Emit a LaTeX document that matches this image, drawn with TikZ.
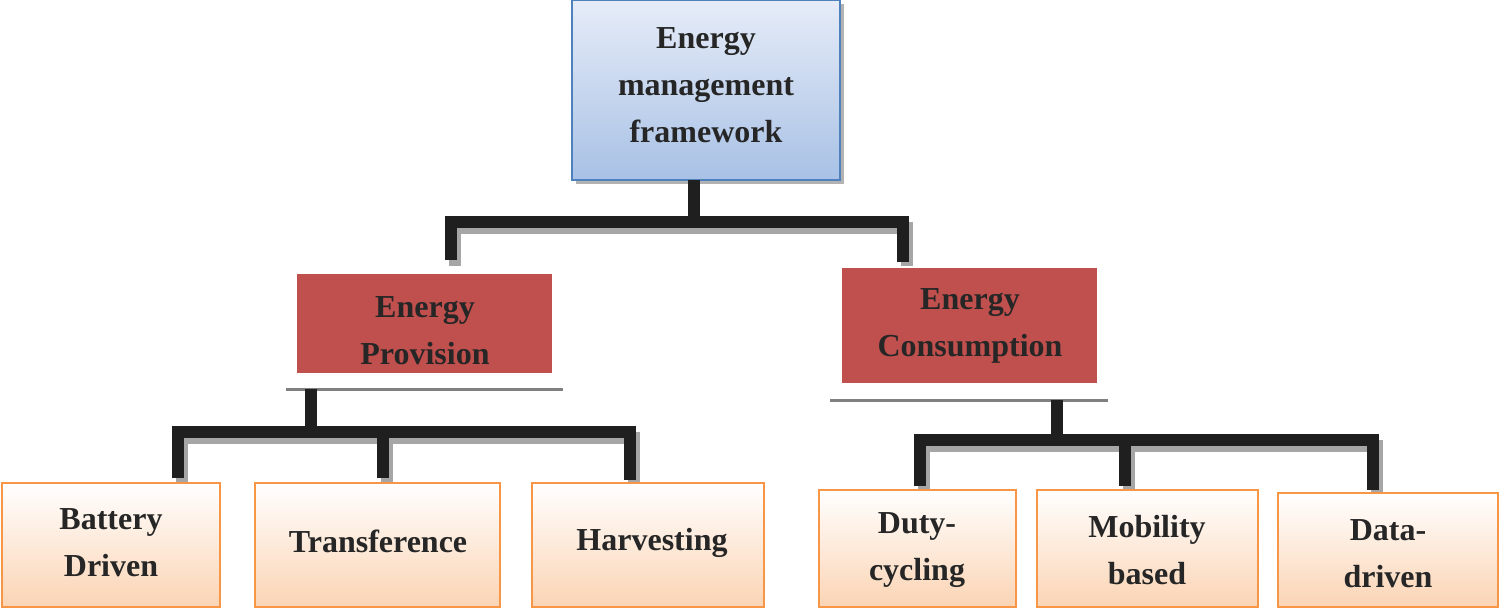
\documentclass[tikz,border=0pt]{standalone}
\usepackage{fontspec}
\setmainfont{Liberation Serif}
\begin{document}
\begin{tikzpicture}[x=0.5pt,y=-0.5pt,
  conn/.style={line width=6pt,draw=black!88},
  shad/.style={line width=6pt,draw=gray!70},
  txt/.style={font=\bfseries\fontsize{16}{23.5}\selectfont,align=center,text=black!85},
  leaf/.style={draw={rgb,255:red,247;green,150;blue,70},line width=1.2pt,top color=white,bottom color={rgb,255:red,251;green,212;blue,180}},
  red/.style={fill={rgb,255:red,192;green,80;blue,77}},
  glin/.style={draw=gray,line width=1.5pt}]
\useasboundingbox (0,0) rectangle (1501,612);
% top
\fill[gray!60] (576,4) rectangle (844,184);
\draw[draw={rgb,255:red,79;green,129;blue,189},line width=1.2pt,top color={rgb,255:red,230;green,236;blue,248},bottom color={rgb,255:red,168;green,193;blue,229}] (572,0) rectangle (840,180);
\node[txt] (top) at (706,85) {Energy\\management\\framework};
% top connectors
\draw[shad] (455,266) -- (455,228) -- (907,228) -- (907,266);
\draw[conn] (694,180) -- (694,222);
\draw[conn] (451,260) -- (451,222) -- (903,222) -- (903,262);
% mid boxes
\fill[red] (297,274) rectangle (552,373);
\node[txt] (prov) at (425,331) {Energy\\Provision};
\draw[glin] (286,389) -- (563,389);
\fill[red] (842,268) rectangle (1097,383);
\node[txt] (cons) at (970,326) {Energy\\Consumption};
\draw[glin] (830,400) -- (1108,400);
% left tree
\draw[shad] (182,484) -- (182,438) -- (634,438) -- (634,484);
\draw[shad] (387,438) -- (387,482);
\draw[conn] (311,389) -- (311,432);
\draw[conn] (178,478) -- (178,432) -- (630,432) -- (630,480);
\draw[conn] (383,432) -- (383,478);
% right tree
\draw[shad] (924,490) -- (924,446) -- (1377,446) -- (1377,494);
\draw[shad] (1129,446) -- (1129,490);
\draw[conn] (1057,400) -- (1057,440);
\draw[conn] (920,486) -- (920,440) -- (1373,440) -- (1373,490);
\draw[conn] (1125,440) -- (1125,486);
% leaves
\draw[leaf] (2,483) rectangle (220,607);
\node[txt] (b) at (111,543) {Battery\\Driven};
\draw[leaf] (255,483) rectangle (500,607);
\node[txt] (t) at (378,541) {Transference};
\draw[leaf] (532,483) rectangle (764,607);
\node[txt] (h) at (652,543) {Harvesting};
\draw[leaf] (819,490) rectangle (1016,607);
\node[txt] (d) at (917,550) {Duty-\\cycling};
\draw[leaf] (1037,490) rectangle (1258,607);
\node[txt] (m) at (1147,550) {Mobility\\based};
\draw[leaf] (1278,493) rectangle (1498,607);
\node[txt] (dd) at (1388,554) {Data-\\driven};
\end{tikzpicture}
\end{document}
